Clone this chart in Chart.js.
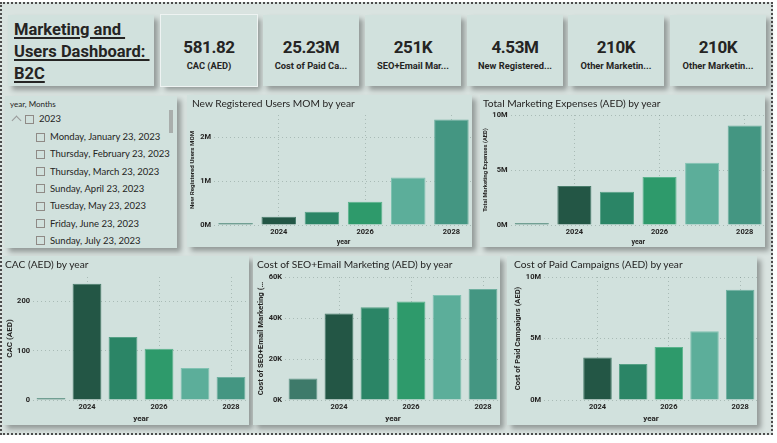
<!DOCTYPE html>
<html>
<head>
<meta charset="utf-8">
<title>Marketing and Users Dashboard: B2C</title>
<script src="https://cdn.jsdelivr.net/npm/chart.js@4.4.1/dist/chart.umd.min.js"></script>
<style>
  html, body { margin: 0; padding: 0; background: #fff; }
  body { width: 777px; height: 443px; position: relative; overflow: hidden; font-family: Lato, 'Noto Sans', sans-serif; color: #252423; }
  #frame { position: absolute; left: 0; top: 2px; width: 773px; height: 433px; box-sizing: border-box; border: 2px dotted #4d4d4d; background: #d9e3e0; }
  .panel { position: absolute; background: #d1e1dd; box-shadow: 4px 4px 5px rgba(0, 0, 0, 0.32); }
  .panel canvas { position: absolute; left: 0; top: 0; }
  .ctitle { position: absolute; font-size: 10.2px; line-height: 12px; white-space: nowrap; color: #252423; }
  #titleBox { left: 8px; top: 15px; width: 146px; height: 71px; }
  #titleBox div { position: absolute; left: 6px; top: 4px; font-family: Roboto, sans-serif; font-weight: 700; font-size: 16.5px; line-height: 22px; text-decoration: underline; text-decoration-thickness: 1.5px; text-underline-offset: 2px; }
  .card { top: 15px; width: 96px; height: 71px; text-align: center; font-family: Roboto, sans-serif; }
  .card.sel { box-shadow: 0 0 0 1px #eef3f2, 4px 4px 5px rgba(0, 0, 0, 0.32); }
  .card .val { position: absolute; left: 0; right: 0; top: 22px; font-size: 17px; font-weight: 700; line-height: 20px; letter-spacing: -0.4px; }
  .card .lab { position: absolute; left: 0; right: 0; top: 45px; font-size: 9.3px; font-weight: 700; line-height: 12px; white-space: nowrap; }
  #slicer { left: 5px; top: 96px; width: 172px; height: 152px; }
  #slicer .hdr { position: absolute; left: 5px; top: 3px; font-size: 8px; line-height: 10px; }
  #slicer .row { position: absolute; height: 14px; font-size: 9.5px; line-height: 14px; white-space: nowrap; }
  #slicer .box { position: absolute; width: 9px; height: 9px; border: 1px solid #8f8a86; box-sizing: border-box; }
  #slicer .chev { position: absolute; left: 8px; top: 21px; width: 6px; height: 6px; border-left: 1px solid #9a9a9a; border-top: 1px solid #9a9a9a; transform: rotate(45deg); }
  #slicer .thumb { position: absolute; left: 164px; top: 14px; width: 4px; height: 23px; background: #a9aeac; }
</style>
</head>
<body>
<div id="frame"></div>

<div class="panel" id="titleBox"><div>Marketing and&nbsp;<br>Users Dashboard:&nbsp;<br>B2C</div></div>
<div id="cards"></div>

<div class="panel" id="slicer">
  <div class="hdr">year, Months</div>
  <div class="chev"></div>
  <div class="thumb"></div>
</div>

<div class="panel" style="left:187px;top:95px;width:285px;height:152px;">
  <canvas id="usersChart" width="286" height="152"></canvas>
  <div class="ctitle" style="left:5px;top:2px;">New Registered Users MOM by year</div>
</div>
<div class="panel" style="left:480px;top:95px;width:285px;height:152px;">
  <canvas id="expensesChart" width="286" height="152"></canvas>
  <div class="ctitle" style="left:3px;top:2px;">Total Marketing Expenses (AED) by year</div>
</div>
<div class="panel" style="left:3px;top:256px;width:246px;height:169px;">
  <canvas id="cacChart" width="246" height="169"></canvas>
  <div class="ctitle" style="left:2px;top:2px;">CAC (AED) by year</div>
</div>
<div class="panel" style="left:253px;top:256px;width:247px;height:169px;">
  <canvas id="seoChart" width="248" height="169"></canvas>
  <div class="ctitle" style="left:4px;top:2px;">Cost of SEO+Email Marketing (AED) by year</div>
</div>
<div class="panel" style="left:507px;top:256px;width:250px;height:169px;">
  <canvas id="paidChart" width="251" height="169"></canvas>
  <div class="ctitle" style="left:7px;top:2px;">Cost of Paid Campaigns (AED) by year</div>
</div>

<script>
// Values
var years = ['2023', '2024', '2025', '2026', '2027', '2028'];
var labelledYears = ['2024', '2026', '2028'];
var newUsers = [30000, 190000, 300000, 530000, 1080000, 2400000];
var totalExpenses = [50000, 3540000, 3020000, 4360000, 5670000, 9050000];
var cacValues = [1.8, 236.2, 128, 104, 65, 46.8];
var seoCost = [10500, 42200, 45200, 48100, 51200, 54100];
var paidCost = [null, 3450000, 2920000, 4300000, 5590000, 8970000];

// y tick values per chart
var usersTicks = [0, 1000000, 2000000];
var expensesTicks = [0, 5000000, 10000000];
var cacTicks = [0, 100, 200];
var seoTicks = [0, 20000, 40000, 60000];
var paidTicks = [0, 5000000, 10000000];

var kpiValues = ['581.82', '25.23M', '251K', '4.53M', '210K', '210K'];
var kpiLabels = ['CAC (AED)', 'Cost of Paid Ca...', 'SEO+Email Mar...', 'New Registered...', 'Other Marketin...', 'Other Marketin...'];

var sliceYear = '2023';
var sliceMonths = [
    'Monday, January 23, 2023',
    'Thursday, February 23, 2023',
    'Thursday, March 23, 2023',
    'Sunday, April 23, 2023',
    'Tuesday, May 23, 2023',
    'Friday, June 23, 2023',
    'Sunday, July 23, 2023'
];

// Styling
var ink = '#252423';
var gridColor = 'rgba(110, 130, 125, 0.4)';
var barFill = ['#3e7a6a', '#235645', '#2b8566', '#2e9a6b', '#5cae9a', '#449682'];
var barEdge = ['#6a9c8e', '#4a7d6c', '#55a085', '#5ab38c', '#80c2b2', '#6fb0a0'];
var tickFont = { family: 'Roboto', size: 7.5, weight: 'bold' };

// KPI cards
var cardLeft = [161, 263, 365, 467, 568, 670];
var cardsEl = document.getElementById('cards');
kpiValues.forEach(function (v, i) {
    var d = document.createElement('div');
    d.className = 'panel card' + (i === 0 ? ' sel' : '');
    d.style.left = cardLeft[i] + 'px';
    d.innerHTML = '<div class="val"></div><div class="lab"></div>';
    d.querySelector('.val').textContent = v;
    d.querySelector('.lab').textContent = kpiLabels[i];
    cardsEl.appendChild(d);
});

// Slicer list
var slicer = document.getElementById('slicer');
function addRow(text, boxLeft, textLeft, centerY) {
    var b = document.createElement('div');
    b.className = 'box';
    b.style.left = boxLeft + 'px';
    b.style.top = (centerY - 96 - 4.5) + 'px';
    slicer.appendChild(b);
    var r = document.createElement('div');
    r.className = 'row';
    r.style.left = textLeft + 'px';
    r.style.top = (centerY - 96 - 7) + 'px';
    r.textContent = text;
    slicer.appendChild(r);
}
addRow(sliceYear, 20, 34, 119);
sliceMonths.forEach(function (m, i) {
    addRow(m, 31, 45, 137 + i * 17.3);
});

function fmtM(v) { return (v / 1000000) + 'M'; }
function fmtK(v) { return (v / 1000) + 'K'; }
function fmtN(v) { return v; }

// Bar chart builder
function barChart(id, values, cfg) {
    return new Chart(document.getElementById(id), {
        type: 'bar',
        data: {
            labels: years,
            datasets: [{
                data: values,
                backgroundColor: barFill,
                borderColor: barEdge,
                borderWidth: 1,
                minBarLength: 2,
                barPercentage: 0.8,
                categoryPercentage: 1
            }]
        },
        options: {
            responsive: false,
            animation: false,
            layout: { padding: { top: cfg.top, right: 0, left: 0, bottom: 0 } },
            plugins: { legend: { display: false }, tooltip: { enabled: false } },
            scales: {
                x: {
                    grid: {
                        offset: false,
                        drawTicks: false,
                        color: function (c) {
                            return labelledYears.indexOf(years[c.index]) >= 0 ? gridColor : 'transparent';
                        }
                    },
                    border: { display: false, dash: [1, 3] },
                    ticks: {
                        autoSkip: false,
                        maxRotation: 0,
                        padding: 3,
                        font: tickFont,
                        color: ink,
                        callback: function (v, i) {
                            return labelledYears.indexOf(years[i]) >= 0 ? years[i] : '';
                        }
                    },
                    title: {
                        display: true,
                        text: 'year',
                        color: ink,
                        font: { family: 'Roboto', size: cfg.xTitleSize, weight: 'bold' },
                        padding: { top: 0, bottom: 1 }
                    },
                    afterFit: function (s) { s.height = cfg.xh; }
                },
                y: {
                    min: 0,
                    max: cfg.max,
                    grid: { drawTicks: false, color: gridColor },
                    border: { display: false, dash: [1, 3] },
                    ticks: {
                        autoSkip: false,
                        padding: 3,
                        font: tickFont,
                        color: ink,
                        callback: cfg.fmt
                    },
                    title: {
                        display: true,
                        text: cfg.yTitle,
                        color: ink,
                        font: { family: 'Roboto', size: cfg.yTitleSize, weight: 'bold' },
                        padding: { top: cfg.yTitlePad, bottom: 0 }
                    },
                    afterBuildTicks: function (s) {
                        s.ticks = cfg.ticks.map(function (v) { return { value: v }; });
                    },
                    afterFit: function (s) { s.width = cfg.yw; }
                }
            }
        }
    });
}

barChart('usersChart', newUsers, {
    top: 20, xh: 22, yw: 27, max: 2500000, ticks: usersTicks, fmt: fmtM,
    yTitle: 'New Registered Users MOM', yTitleSize: 6.2, yTitlePad: 2, xTitleSize: 7
});
barChart('expensesChart', totalExpenses, {
    top: 20, xh: 22, yw: 30.5, max: 10000000, ticks: expensesTicks, fmt: fmtM,
    yTitle: 'Total Marketing Expenses (AED)', yTitleSize: 5.8, yTitlePad: 2, xTitleSize: 7
});
barChart('cacChart', cacValues, {
    top: 21, xh: 25, yw: 30, max: 250, ticks: cacTicks, fmt: fmtN,
    yTitle: 'CAC (AED)', yTitleSize: 8, yTitlePad: 2, xTitleSize: 8
});
barChart('seoChart', seoCost, {
    top: 21, xh: 25, yw: 32, max: 60000, ticks: seoTicks, fmt: fmtK,
    yTitle: 'Cost of SEO+Email Marketing (\u2026', yTitleSize: 7.8, yTitlePad: 3, xTitleSize: 8
});
barChart('paidChart', paidCost, {
    top: 21, xh: 25, yw: 37, max: 10000000, ticks: paidTicks, fmt: fmtM,
    yTitle: 'Cost of Paid Campaigns (AED)', yTitleSize: 7.6, yTitlePad: 7, xTitleSize: 8
});
</script>
</body>
</html>
